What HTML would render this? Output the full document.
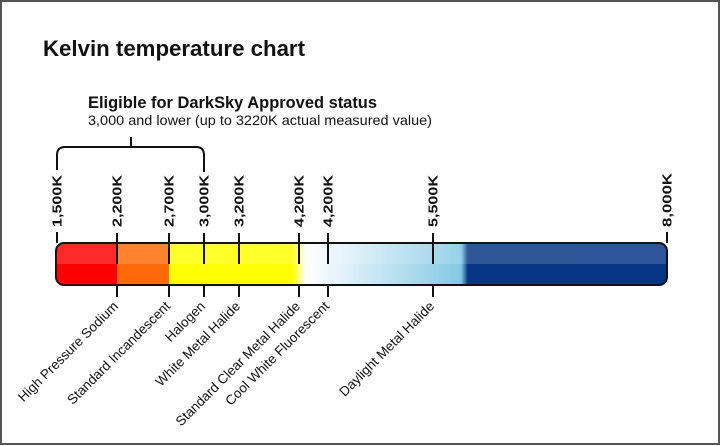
<!DOCTYPE html>
<html><head><meta charset="utf-8">
<style>
html,body{margin:0;padding:0;background:#fff;}
svg{display:block;}
text{font-family:"Liberation Sans",sans-serif;fill:#111;}
</style></head>
<body>
<svg width="720" height="446" viewBox="0 0 720 446" xmlns="http://www.w3.org/2000/svg">
<defs>
<linearGradient id="g" gradientUnits="userSpaceOnUse" x1="169" y1="0" x2="667" y2="0">
<stop offset="0" stop-color="#ffff00"/>
<stop offset="0.247" stop-color="#ffff00"/>
<stop offset="0.275" stop-color="#ffffff"/>
<stop offset="0.582" stop-color="#86cae4"/>
<stop offset="0.587" stop-color="#7cc3e0"/>
<stop offset="0.600" stop-color="#073684"/>
<stop offset="1" stop-color="#063583"/>
</linearGradient>
<clipPath id="c"><rect x="56" y="243" width="611" height="42" rx="8"/></clipPath>
</defs>
<rect x="1" y="1" width="718" height="443" fill="#fff" stroke="#555" stroke-width="2"/>

<text x="43" y="56" font-size="22" font-weight="bold" textLength="262" lengthAdjust="spacingAndGlyphs">Kelvin temperature chart</text>
<text x="88" y="108" font-size="16.5" font-weight="bold" textLength="289" lengthAdjust="spacingAndGlyphs">Eligible for DarkSky Approved status</text>
<text x="88" y="125" font-size="14" textLength="344" lengthAdjust="spacingAndGlyphs">3,000 and lower (up to 3220K actual measured value)</text>

<!-- bracket -->
<path d="M57 170 V155 Q57 147 65 147 H196 Q204 147 204 155 V170 M131 147 V137" fill="none" stroke="#111" stroke-width="2"/>

<!-- bar -->
<g clip-path="url(#c)">
<rect x="56" y="243" width="61" height="42" fill="#ff0000"/>
<rect x="117" y="243" width="52" height="42" fill="#ff6a08"/>
<rect x="169" y="243" width="498" height="42" fill="url(#g)"/>
<rect x="56" y="243" width="611" height="21" fill="#fff" opacity="0.16"/>
</g>
<rect x="56" y="243" width="611" height="42" rx="8" fill="none" stroke="#111" stroke-width="2"/>

<!-- ticks -->
<g stroke="#111" stroke-width="2">
<line x1="57" y1="232" x2="57" y2="243"/>
<line x1="667" y1="232" x2="667" y2="243"/>
<line x1="117" y1="233" x2="117" y2="264"/><line x1="117" y1="285" x2="117" y2="297"/>
<line x1="169" y1="233" x2="169" y2="264"/><line x1="169" y1="285" x2="169" y2="297"/>
<line x1="204" y1="233" x2="204" y2="264"/><line x1="204" y1="285" x2="204" y2="297"/>
<line x1="239" y1="233" x2="239" y2="264"/><line x1="239" y1="285" x2="239" y2="297"/>
<line x1="299" y1="233" x2="299" y2="264"/><line x1="299" y1="285" x2="299" y2="297"/>
<line x1="328" y1="233" x2="328" y2="264"/><line x1="328" y1="285" x2="328" y2="297"/>
<line x1="433" y1="233" x2="433" y2="264"/><line x1="433" y1="285" x2="433" y2="297"/>
<line x1="204" y1="168" x2="204" y2="172"/>
</g>

<!-- top labels -->
<g font-size="13" font-weight="bold">
<text transform="translate(61.5,227) rotate(-90)" textLength="52" lengthAdjust="spacingAndGlyphs">1,500K</text>
<text transform="translate(121.5,227) rotate(-90)" textLength="52" lengthAdjust="spacingAndGlyphs">2,200K</text>
<text transform="translate(173.5,227) rotate(-90)" textLength="52" lengthAdjust="spacingAndGlyphs">2,700K</text>
<text transform="translate(208.5,227) rotate(-90)" textLength="52" lengthAdjust="spacingAndGlyphs">3,000K</text>
<text transform="translate(243.5,227) rotate(-90)" textLength="52" lengthAdjust="spacingAndGlyphs">3,200K</text>
<text transform="translate(303.5,227) rotate(-90)" textLength="52" lengthAdjust="spacingAndGlyphs">4,200K</text>
<text transform="translate(332.5,227) rotate(-90)" textLength="52" lengthAdjust="spacingAndGlyphs">4,200K</text>
<text transform="translate(437.5,227) rotate(-90)" textLength="52" lengthAdjust="spacingAndGlyphs">5,500K</text>
<text transform="translate(671.5,227) rotate(-90)" textLength="54" lengthAdjust="spacingAndGlyphs">8,000K</text>
</g>

<!-- bottom labels -->
<g font-size="13.5" text-anchor="end">
<text transform="translate(119,307) rotate(-45)">High Pressure Sodium</text>
<text transform="translate(171,307) rotate(-45)">Standard Incandescent</text>
<text transform="translate(206,307) rotate(-45)">Halogen</text>
<text transform="translate(241,307) rotate(-45)">White Metal Halide</text>
<text transform="translate(301,307) rotate(-45)">Standard Clear Metal Halide</text>
<text transform="translate(330,307) rotate(-45)">Cool White Fluorescent</text>
<text transform="translate(435,307) rotate(-45)">Daylight Metal Halide</text>
</g>
</svg>
</body></html>
